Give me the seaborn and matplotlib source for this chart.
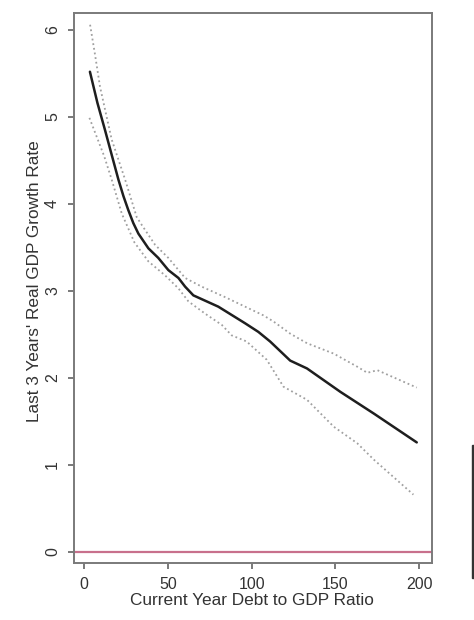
import matplotlib
matplotlib.use("Agg")
import matplotlib.pyplot as plt
import seaborn as sns
import pandas as pd

# ---- data ----
main_x = [3.5, 8, 12.5, 16, 20.5, 23.5, 26.4, 29.4, 32.4, 38.4, 44.3, 50.3, 56.3, 60.3, 65.2, 80.1, 96, 104, 111, 123, 133, 153, 173, 198.5]
main_y = [5.52, 5.16, 4.85, 4.60, 4.28, 4.09, 3.93, 3.78, 3.66, 3.49, 3.38, 3.24, 3.15, 3.05, 2.95, 2.82, 2.63, 2.53, 2.42, 2.20, 2.11, 1.84, 1.59, 1.26]

upper_x = [3.6, 6.6, 9.5, 13.5, 16.5, 24.5, 31.4, 34.4, 42.4, 50.3, 60.3, 70.2, 84.1, 96.1, 107, 113, 123, 133, 149, 163, 169, 175, 198.5]
upper_y = [6.06, 5.71, 5.35, 5.00, 4.74, 4.28, 3.85, 3.76, 3.53, 3.38, 3.15, 3.05, 2.93, 2.82, 2.72, 2.65, 2.51, 2.40, 2.28, 2.13, 2.06, 2.09, 1.89]

lower_x = [3.2, 7.6, 12, 16.5, 22.5, 30, 38.4, 48.3, 56.3, 62.3, 72.2, 82.2, 88.1, 97, 109, 119, 133, 149, 163, 173, 196.5]
lower_y = [4.99, 4.77, 4.55, 4.28, 3.89, 3.56, 3.34, 3.18, 3.03, 2.88, 2.74, 2.61, 2.49, 2.42, 2.21, 1.90, 1.75, 1.44, 1.25, 1.06, 0.66]

x_ticks = [0, 50, 100, 150, 200]
y_ticks = [0, 1, 2, 3, 4, 5, 6]
ref_level = 0

x_label = "Current Year Debt to GDP Ratio"
y_label = "Last 3 Years' Real GDP Growth Rate"

# ---- style ----
sns.set_style("white")
plt.rcParams['font.family'] = ['Liberation Sans', 'DejaVu Sans']

fig = plt.figure(figsize=(4.74, 6.2), dpi=100)
ax = fig.add_axes([74/474, 1 - 563/620, (432 - 74)/474, (563 - 13)/620])

main_df = pd.DataFrame({"x": main_x, "y": main_y})
up_df = pd.DataFrame({"x": upper_x, "y": upper_y})
lo_df = pd.DataFrame({"x": lower_x, "y": lower_y})

ax.axhline(ref_level, color="#c8708c", lw=1.6, zorder=1)
sns.lineplot(data=up_df, x="x", y="y", ax=ax, sort=False, estimator=None,
             color="#a0a0a0", lw=1.3, linestyle=(0, (1, 1.6)))
sns.lineplot(data=lo_df, x="x", y="y", ax=ax, sort=False, estimator=None,
             color="#a0a0a0", lw=1.3, linestyle=(0, (1, 1.6)))
sns.lineplot(data=main_df, x="x", y="y", ax=ax, sort=False, estimator=None,
             color="#1e1e1e", lw=1.8)

ax.set_xlim(-6, 207.6)
ax.set_ylim(-0.126, 6.195)
ax.set_xticks(x_ticks)
ax.set_yticks(y_ticks)
ax.set_xticklabels([str(v) for v in x_ticks], fontsize=11.5, color="#333333")
ax.set_yticklabels([str(v) for v in y_ticks], fontsize=11.5, color="#333333",
                   rotation=90, va="center")
ax.tick_params(axis="both", direction="out", length=4.5, width=1.1, color="#555555",
               bottom=True, left=True, pad=5.5)
for s in ax.spines.values():
    s.set_visible(True)
    s.set_color("#7a7a7a")
    s.set_linewidth(1.4)

ax.set_xlabel(x_label, fontsize=12.4, color="#333333")
ax.set_ylabel(y_label, fontsize=12.4, color="#333333")
ax.xaxis.set_label_coords(0.497, (563 - 593) / 550)
ax.yaxis.set_label_coords((42 - 74) / 358, 0.513)

# screenshot crop artifact at the right edge
fig.patches.append(plt.Rectangle((471.5/474, 1 - 578/620), 2.5/474, (578 - 445)/620,
                                 transform=fig.transFigure, color="#333333", zorder=5))

fig.savefig("out.png", dpi=100, facecolor="white")
